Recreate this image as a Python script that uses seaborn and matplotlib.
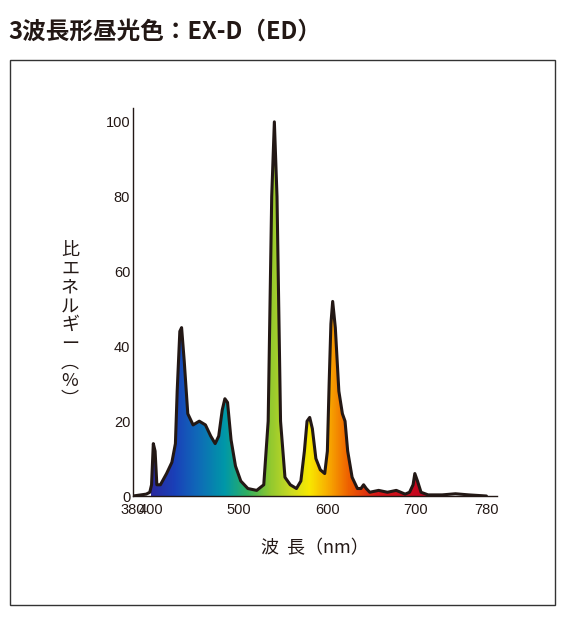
import numpy as np
import matplotlib.pyplot as plt
import seaborn as sns
from matplotlib.colors import LinearSegmentedColormap
from matplotlib.patches import Polygon, Rectangle

sns.set_style('white')
plt.rcParams['font.family'] = ['Noto Sans CJK JP', 'DejaVu Sans']

wavelength = [380, 395, 399, 401, 403, 405, 407, 411, 418, 424, 428, 430, 433, 435, 438, 442, 448,
              455, 462, 468, 473, 477, 481, 484, 487, 491, 496, 502, 510, 520, 528, 533, 537,
              540, 543, 547, 552, 558, 565, 570, 574, 577, 580, 583, 587, 592, 597, 600, 602,
              604, 606, 609, 613, 617, 620, 623, 628, 634, 638, 641, 644, 648, 658, 668, 678,
              688, 693, 697, 699, 702, 706, 714, 730, 745, 760, 780]
energy = [0, 0.5, 1, 3, 14, 12, 3, 3, 6, 9, 14, 28, 44, 45, 36, 22, 19,
          20, 19, 16, 14, 16, 23, 26, 25, 15, 8, 4, 2, 1.5, 3, 20, 80,
          100, 80, 20, 5, 3, 2, 4, 12, 20, 21, 18, 10, 7, 6, 12, 30,
          46, 52, 45, 28, 22, 20, 12, 5, 2, 2, 3, 2, 1, 1.5, 1, 1.5,
          0.5, 1, 3, 6, 4, 1, 0.3, 0.3, 0.6, 0.3, 0]
x_ticks = [380, 400, 500, 600, 700, 780]
y_ticks = [0, 20, 40, 60, 80, 100]

fig = plt.figure(figsize=(5.67, 6.17), dpi=100)
fig.patches.append(Rectangle((10/567, 1-605/617), 545/567, 545/617, transform=fig.transFigure,
                             fill=False, edgecolor='#333333', lw=1))
fig.text(8/567, 1-32/617, '3波長形昼光色：EX-D（ED）', fontsize=17, fontweight='bold',
         va='center', color='#231815')

ax = fig.add_axes([133/567, 1-496/617, 364/567, 388/617])
ax.set_xlim(380, 792)
ax.set_ylim(0, 103.7)

cmap = LinearSegmentedColormap.from_list('spec', [
    (0.0, '#2a2aa0'), (0.08, '#1a40b8'), (0.16, '#1068b8'), (0.26, '#0098a8'),
    (0.34, '#30b060'), (0.42, '#90c830'), (0.50, '#d0dc20'), (0.56, '#f8e800'),
    (0.63, '#f8a800'), (0.70, '#ee6000'), (0.80, '#d81818'), (1.0, '#c00020')])
grad = np.linspace(0, 1, 400).reshape(1, -1)
im = ax.imshow(grad, extent=[400, 720, 0, 103.7], aspect='auto', cmap=cmap, zorder=1)
poly = Polygon(list(zip(wavelength, energy)), closed=True, facecolor='none', edgecolor='none')
ax.add_patch(poly)
im.set_clip_path(poly)
sns.lineplot(x=wavelength, y=energy, ax=ax, color='#231815', lw=2.2, zorder=3, sort=False)

for s in ['top', 'right']:
    ax.spines[s].set_visible(False)
for s in ['left', 'bottom']:
    ax.spines[s].set_color('#231815')
    ax.spines[s].set_linewidth(1)
ax.set_xticks(x_ticks)
ax.set_yticks(y_ticks)
ax.set_xticklabels(['380', '400', '500', '600', '700', '780'])
ax.tick_params(direction='in', length=4, labelsize=10.5, colors='#231815', pad=2)
ax.tick_params(axis='x', pad=5)
for lab in ax.get_xticklabels() + ax.get_yticklabels():
    lab.set_family(['Liberation Sans', 'DejaVu Sans'])
ax.set_xlabel('')
ax.set_ylabel('')

fig.text(70/567, 1-325/617, '比\nエ\nネ\nル\nギ\nー\n︵\n%\n︶', fontsize=13,
         ha='center', va='center', linespacing=1.05, color='#231815')
fig.text(315/567, 1-548/617, '波  長（nm）', fontsize=13, ha='center', va='center',
         color='#231815')

fig.savefig('out.png', dpi=100)
